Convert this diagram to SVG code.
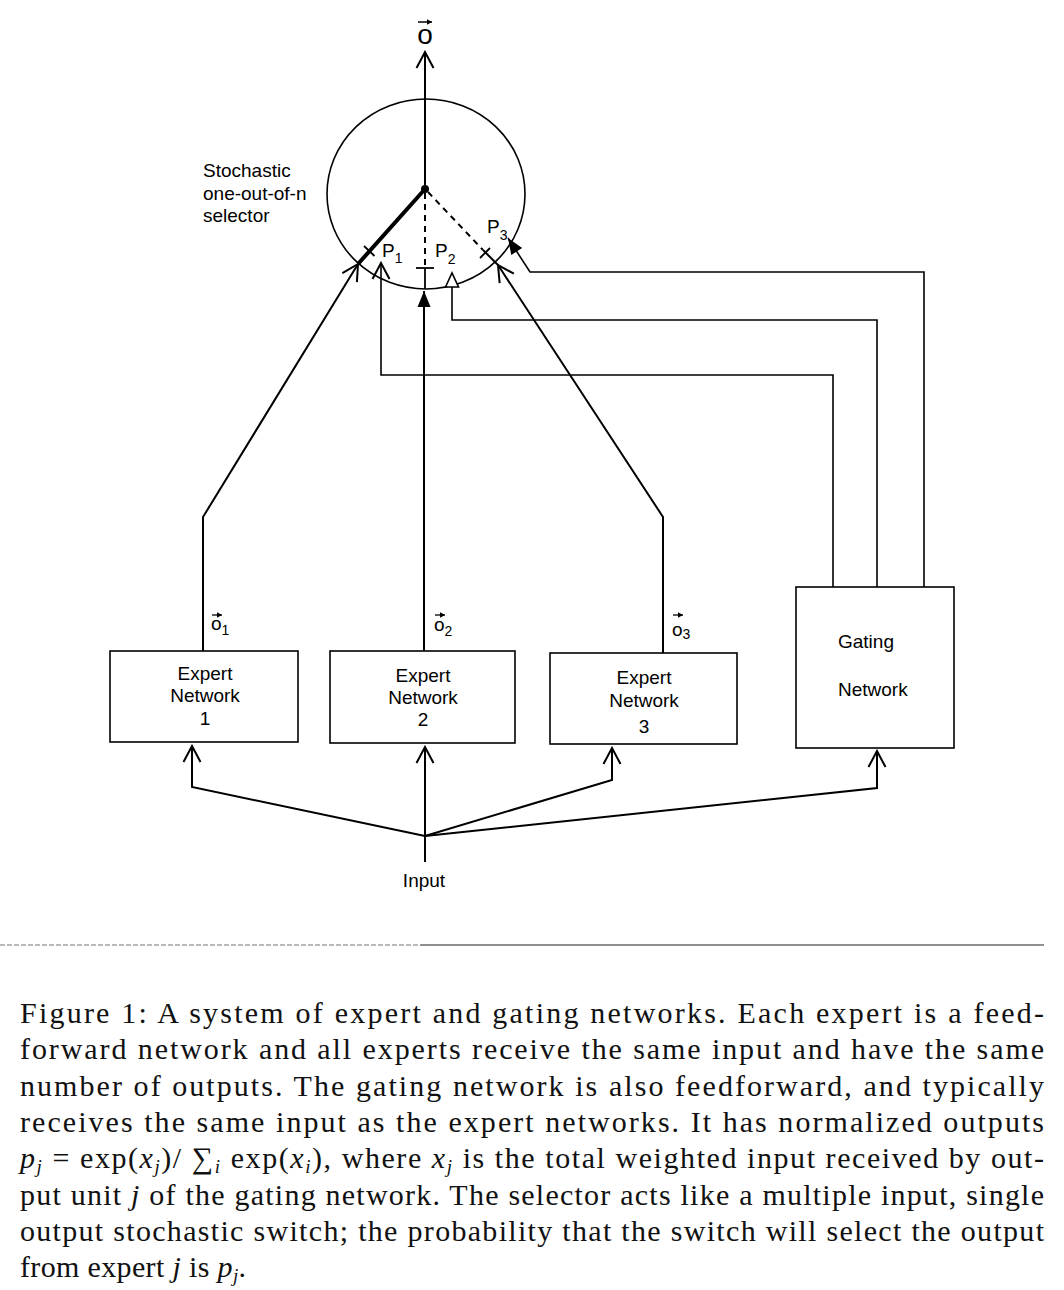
<svg xmlns="http://www.w3.org/2000/svg" width="1064" height="1290" viewBox="0 0 1064 1290">
<style>
.lbl{font-family:"Liberation Sans","Helvetica",Arial,sans-serif;font-size:19px;fill:#000}
.ctr{text-anchor:middle}
.sub{font-size:14px}
.big{font-size:28px}
.box{fill:#fff;stroke:#000;stroke-width:1.6}
.ln{fill:none;stroke:#000;stroke-width:2;stroke-linejoin:miter}
.gl{fill:none;stroke:#000;stroke-width:1.6}
.cap{font-family:"Liberation Serif","Times New Roman",serif;font-size:30px;fill:#111}
.it{font-style:italic}
.cs{font-size:19px}
</style>
<defs>
<marker id="mo" viewBox="-18 -10 20 20" refX="0" refY="0" markerWidth="20" markerHeight="20" orient="auto" markerUnits="userSpaceOnUse"><path d="M-16,-8.5 L0,0 L-16,8.5" fill="none" stroke="#000" stroke-width="2"/></marker>
<marker id="mf" viewBox="-18 -10 20 20" refX="0" refY="0" markerWidth="20" markerHeight="20" orient="auto" markerUnits="userSpaceOnUse"><path d="M-16,-6.5 L0,0 L-16,6.5 Z" fill="#000"/></marker>
<marker id="mh" viewBox="-18 -10 20 20" refX="0" refY="0" markerWidth="20" markerHeight="20" orient="auto" markerUnits="userSpaceOnUse"><path d="M-14,-6.5 L0,0 L-14,6.5 Z" fill="#fff" stroke="#000" stroke-width="1.6"/></marker>
<marker id="mt" viewBox="-6 -4 8 8" refX="0" refY="0" markerWidth="8" markerHeight="8" orient="auto" markerUnits="userSpaceOnUse"><path d="M-5,-2.8 L0,0 L-5,2.8 Z" fill="#000"/></marker>
</defs>
<rect width="1064" height="1290" fill="#fff"/>

<g id="selector">
<ellipse cx="426" cy="194" rx="99" ry="95" fill="none" stroke="#000" stroke-width="1.6"/>
<circle cx="425" cy="189" r="4" fill="#000"/>
<line x1="358" y1="264" x2="425" y2="189" stroke="#000" stroke-width="4"/>
<line x1="425" y1="193" x2="425" y2="268" stroke="#000" stroke-width="2" stroke-dasharray="6 5"/>
<line x1="416" y1="268" x2="434" y2="268" stroke="#000" stroke-width="1.8"/>
<line x1="425" y1="268" x2="425" y2="289" stroke="#000" stroke-width="1.8"/>
<line x1="428" y1="192" x2="483" y2="250" stroke="#000" stroke-width="2" stroke-dasharray="6 5"/>
<line x1="483" y1="250" x2="498" y2="265" stroke="#000" stroke-width="2"/>
<line x1="364" y1="246" x2="374.5" y2="256" stroke="#000" stroke-width="1.8"/>
<line x1="480" y1="258" x2="490" y2="248" stroke="#000" stroke-width="1.8"/>
<text class="lbl" x="203" y="177">Stochastic</text>
<text class="lbl" x="203" y="200">one-out-of-n</text>
<text class="lbl" x="203" y="222">selector</text>
<text class="lbl" x="382" y="257">P<tspan class="sub" dy="6">1</tspan></text>
<text class="lbl" x="435" y="257">P<tspan class="sub" dy="7">2</tspan></text>
<text class="lbl" x="487" y="233">P<tspan class="sub" dy="7">3</tspan></text>
</g>

<g id="output">
<text class="lbl ctr big" x="425" y="44">o</text>
<line x1="418" y1="22" x2="432" y2="22" stroke="#000" stroke-width="1.5" marker-end="url(#mt)"/>
</g>

<g id="expert1">
<rect class="box" x="110" y="651" width="188" height="91"/>
<text class="lbl ctr" x="205" y="680">Expert</text>
<text class="lbl ctr" x="205" y="702">Network</text>
<text class="lbl ctr" x="205" y="725">1</text>
</g>
<g id="expert2">
<rect class="box" x="330" y="651" width="185" height="92"/>
<text class="lbl ctr" x="423" y="682">Expert</text>
<text class="lbl ctr" x="423" y="704">Network</text>
<text class="lbl ctr" x="423" y="726">2</text>
</g>
<g id="expert3">
<rect class="box" x="550" y="653" width="187" height="91"/>
<text class="lbl ctr" x="644" y="684">Expert</text>
<text class="lbl ctr" x="644" y="707">Network</text>
<text class="lbl ctr" x="644" y="733">3</text>
</g>
<g id="gating">
<rect class="box" x="796" y="587" width="158" height="161"/>
<text class="lbl" x="838" y="648">Gating</text>
<text class="lbl" x="838" y="696">Network</text>
</g>
<g id="input">
<text class="lbl ctr" x="424" y="887">Input</text>
</g>

<g id="labels">
<text class="lbl" x="211" y="630">o<tspan class="sub" dy="5">1</tspan></text>
<line x1="212" y1="615" x2="222" y2="615" stroke="#000" stroke-width="1.3" marker-end="url(#mt)"/>
<text class="lbl" x="434" y="631">o<tspan class="sub" dy="5">2</tspan></text>
<line x1="435" y1="615" x2="445" y2="615" stroke="#000" stroke-width="1.3" marker-end="url(#mt)"/>
<text class="lbl" x="672" y="636">o<tspan class="sub" dy="3">3</tspan></text>
<line x1="673" y1="615" x2="683" y2="615" stroke="#000" stroke-width="1.3" marker-end="url(#mt)"/>
</g>

<g id="connectors">
<line class="ln" x1="425" y1="189" x2="425" y2="52" marker-end="url(#mo)"/>
<polyline class="ln" points="203,651 203,517 358,264" marker-end="url(#mo)"/>
<line class="ln" x1="424" y1="651" x2="424" y2="291" marker-end="url(#mf)"/>
<polyline class="ln" points="663,653 663,517 498,265" marker-end="url(#mo)"/>
<polyline class="gl" points="833,587 833,375 381,375 381,263" marker-end="url(#mo)"/>
<polyline class="gl" points="877,587 877,320 452,320 452,273" marker-end="url(#mh)"/>
<polyline class="gl" points="924,587 924,272 530,272 508,238" marker-end="url(#mf)"/>
<line class="ln" x1="425" y1="862" x2="425" y2="836"/>
<polyline class="ln" points="425,836 192,787 192,746" marker-end="url(#mo)"/>
<line class="ln" x1="425" y1="836" x2="425" y2="747" marker-end="url(#mo)"/>
<polyline class="ln" points="425,836 612,780 612,748" marker-end="url(#mo)"/>
<polyline class="ln" points="425,836 877,788 877,751" marker-end="url(#mo)"/>
</g>

<g id="separator">
<line x1="0" y1="945" x2="420" y2="945" stroke="#777" stroke-width="1.2" stroke-dasharray="5 2"/>
<line x1="420" y1="945" x2="1044" y2="945" stroke="#222" stroke-width="1.2"/>
</g>

<g id="caption">
<text class="cap" x="20" y="1023" textLength="1024" lengthAdjust="spacing">Figure 1:  A system of expert and gating networks.  Each expert is a feed-</text>
<text class="cap" x="20" y="1059" textLength="1024" lengthAdjust="spacing">forward network and all experts receive the same input and have the same</text>
<text class="cap" x="20" y="1096" textLength="1024" lengthAdjust="spacing">number of outputs.  The gating network is also feedforward, and typically</text>
<text class="cap" x="20" y="1132" textLength="1024" lengthAdjust="spacing">receives the same input as the expert networks.  It has normalized outputs</text>
<text class="cap" x="20" y="1168" textLength="1024" lengthAdjust="spacing"><tspan class="it">p</tspan><tspan class="it cs" dy="5">j</tspan><tspan dy="-5"> = exp(</tspan><tspan class="it">x</tspan><tspan class="it cs" dy="5">j</tspan><tspan dy="-5">)/ ∑</tspan><tspan class="it cs" dy="5">i</tspan><tspan dy="-5"> exp(</tspan><tspan class="it">x</tspan><tspan class="it cs" dy="5">i</tspan><tspan dy="-5">), where </tspan><tspan class="it">x</tspan><tspan class="it cs" dy="5">j</tspan><tspan dy="-5"> is the total weighted input received by out-</tspan></text>
<text class="cap" x="20" y="1205" textLength="1024" lengthAdjust="spacing">put unit <tspan class="it">j</tspan> of the gating network. The selector acts like a multiple input, single</text>
<text class="cap" x="20" y="1241" textLength="1024" lengthAdjust="spacing">output stochastic switch; the probability that the switch will select the output</text>
<text class="cap" x="20" y="1277" textLength="226" lengthAdjust="spacing">from expert <tspan class="it">j</tspan> is <tspan class="it">p</tspan><tspan class="it cs" dy="5">j</tspan><tspan dy="-5">.</tspan></text>
</g>
</svg>
